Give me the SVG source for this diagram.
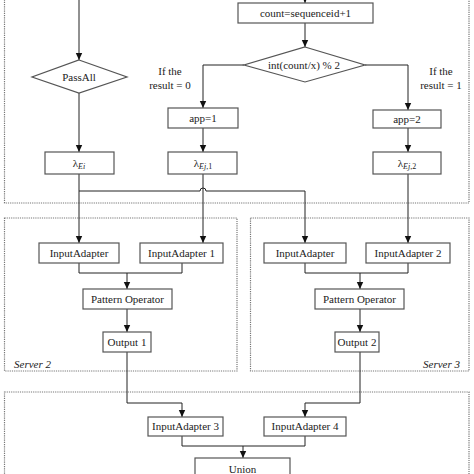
<svg xmlns="http://www.w3.org/2000/svg" width="474" height="474" viewBox="0 0 474 474">
<style>
text{font-family:"Liberation Serif","Times New Roman",serif;font-size:11px;fill:#222;text-anchor:middle}
.it{font-style:italic}
.b{fill:#fff;stroke:#555;stroke-width:1.2}
.d{fill:none;stroke:#777;stroke-width:1.2;stroke-dasharray:1.2 1}
.c{fill:none;stroke:#222;stroke-width:1}
</style>
<defs>
<marker id="a" markerWidth="8" markerHeight="8" refX="7" refY="4" orient="auto" markerUnits="userSpaceOnUse">
<path d="M0,0.8 L7,4 L0,7.2 Z" fill="#111"/>
</marker>
</defs>
<g id="containers">
<rect class="d" x="4.5" y="-10" width="464.5" height="213"/>
<rect class="d" x="4.5" y="218" width="232.5" height="153"/>
<rect class="d" x="250.5" y="218" width="218.5" height="153"/>
<rect class="d" x="4.5" y="392" width="464.5" height="100"/>
<text class="it" x="14" y="368" style="text-anchor:start">Server 2</text>
<text class="it" x="460" y="368" style="text-anchor:end">Server 3</text>
</g>
<g id="connectors">
<path class="c" d="M79,0 V60" marker-end="url(#a)"/>
<path class="c" d="M305,-2 V3" marker-end="url(#a)"/>
<path class="c" d="M305,23 V47" marker-end="url(#a)"/>
<path class="c" d="M244,65 H203 V108" marker-end="url(#a)"/>
<path class="c" d="M365,65 H408 V110" marker-end="url(#a)"/>
<path class="c" d="M79,93 V152" marker-end="url(#a)"/>
<path class="c" d="M203,128 V152" marker-end="url(#a)"/>
<path class="c" d="M408,128 V152" marker-end="url(#a)"/>
<path class="c" d="M79,174 V243" marker-end="url(#a)"/>
<path class="c" d="M203,174 V243" marker-end="url(#a)"/>
<path class="c" d="M79,191 H200 A3,3 0 0 1 206,191 H305 V243" marker-end="url(#a)"/>
<path class="c" d="M408,174 V243" marker-end="url(#a)"/>
<path class="c" d="M79,263 V273 H182 V263"/>
<path class="c" d="M127,273 V289" marker-end="url(#a)"/>
<path class="c" d="M127,309 V332" marker-end="url(#a)"/>
<path class="c" d="M305,263 V273 H408 V263"/>
<path class="c" d="M360,273 V289" marker-end="url(#a)"/>
<path class="c" d="M360,309 V332" marker-end="url(#a)"/>
<path class="c" d="M127,352 V403 H182 V417" marker-end="url(#a)"/>
<path class="c" d="M360,352 V403 H305 V417" marker-end="url(#a)"/>
<path class="c" d="M182,436 V446 H305 V436"/>
<path class="c" d="M243,446 V458" marker-end="url(#a)"/>
</g>
<g id="count"><rect class="b" x="238" y="3" width="135" height="20"/><text x="305.5" y="17">count=sequenceid+1</text></g>
<g id="passall"><polygon class="b" points="79,60 127,77 79,93 32,77"/><text x="79" y="81">PassAll</text></g>
<g id="mod"><polygon class="b" points="305,47 365,65 305,82 244,65"/><text x="304" y="69">int(count/x) % 2</text></g>
<g id="lbl0"><text x="170" y="75">If the</text><text x="170" y="89">result = 0</text></g>
<g id="lbl1"><text x="441" y="75">If the</text><text x="441" y="89">result = 1</text></g>
<g id="app1"><rect class="b" x="168" y="108" width="70" height="20"/><text x="203" y="122">app=1</text></g>
<g id="app2"><rect class="b" x="373" y="110" width="68" height="18"/><text x="407" y="123">app=2</text></g>
<g id="lEi"><rect class="b" x="45" y="152" width="69" height="22"/><text x="79" y="167">λ<tspan class="it" font-size="8" dy="2">Ei</tspan></text></g>
<g id="lEj1"><rect class="b" x="168" y="152" width="69" height="22"/><text x="203" y="167">λ<tspan class="it" font-size="8" dy="2">Ej</tspan><tspan font-size="8">,1</tspan></text></g>
<g id="lEj2"><rect class="b" x="373" y="152" width="68" height="22"/><text x="407" y="167">λ<tspan class="it" font-size="8" dy="2">Ej</tspan><tspan font-size="8">,2</tspan></text></g>
<g id="ia_s2"><rect class="b" x="39" y="243" width="80" height="20"/><text x="79" y="257">InputAdapter</text></g>
<g id="ia1"><rect class="b" x="140" y="243" width="83" height="20"/><text x="181.5" y="257">InputAdapter 1</text></g>
<g id="po1"><rect class="b" x="83" y="289" width="89" height="20"/><text x="127.5" y="303">Pattern Operator</text></g>
<g id="out1"><rect class="b" x="103" y="332" width="48" height="20"/><text x="127" y="346">Output 1</text></g>
<g id="ia_s3"><rect class="b" x="264" y="243" width="82" height="20"/><text x="305" y="257">InputAdapter</text></g>
<g id="ia2"><rect class="b" x="366" y="243" width="84" height="20"/><text x="408" y="257">InputAdapter 2</text></g>
<g id="po2"><rect class="b" x="315" y="289" width="89" height="20"/><text x="359.5" y="303">Pattern Operator</text></g>
<g id="out2"><rect class="b" x="335" y="332" width="44" height="20"/><text x="357" y="346">Output 2</text></g>
<g id="ia3"><rect class="b" x="148" y="417" width="75" height="19"/><text x="185.5" y="430">InputAdapter 3</text></g>
<g id="ia4"><rect class="b" x="264" y="417" width="82" height="19"/><text x="305" y="430">InputAdapter 4</text></g>
<g id="union"><rect class="b" x="195" y="458" width="95" height="30"/><text x="242.5" y="473">Union</text></g>
</svg>
